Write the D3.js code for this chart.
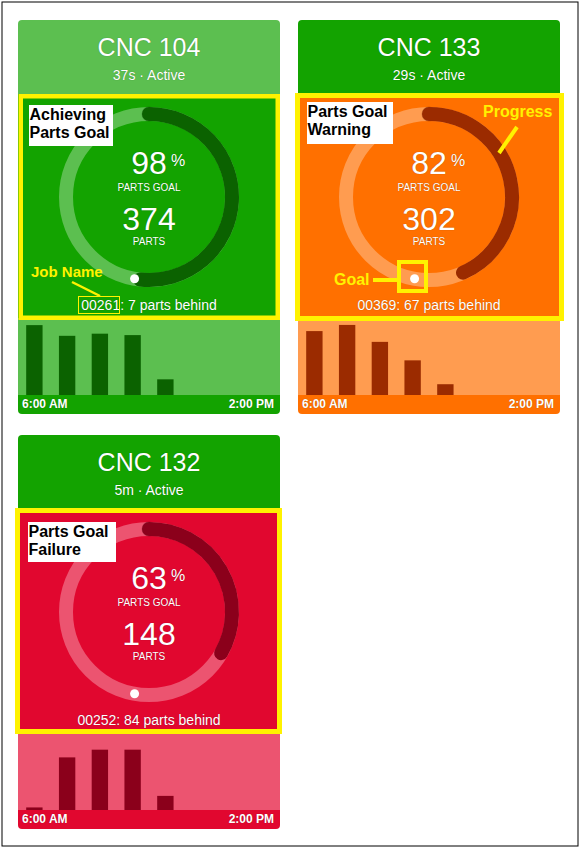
<!DOCTYPE html>
<html>
<head>
<meta charset="utf-8">
<script src="https://cdn.jsdelivr.net/npm/d3@7"></script>
<style>
  body { margin: 0; background: #fff; }
  svg { font-family: Arial, "Liberation Sans", sans-serif; display: block; }
  .wt { fill: #fff; text-shadow: 0 0 1px rgba(0,0,0,0.35); }
</style>
</head>
<body>
<script>
// machine cards
var machines = ["CNC 104", "CNC 133", "CNC 132"];
var statusText = ["37s \u00b7 Active", "29s \u00b7 Active", "5m \u00b7 Active"];
var goalPct = [98, 82, 63];
var partsDone = [374, 302, 148];
var jobNames = ["00261", "00369", "00252"];
var partsBehind = [7, 67, 84];
var levelLabels = [["Achieving", "Parts Goal"], ["Parts Goal", "Warning"], ["Parts Goal", "Failure"]];

// parts per hour, 6:00 AM .. 2:00 PM (8 hour slots)
var hourSlots = ["6", "7", "8", "9", "10", "11", "12", "13"];
var hourlyParts = [
  [98, 83, 86, 84, 22],
  [83, 91, 69, 45, 14],
  [2, 41, 47, 47, 11]
];
var hourMax = [108, 100, 60];
var timeLabels = ["6:00 AM", "2:00 PM"];

var goalAngle = 190; // degrees round the ring where the goal sits

var themes = [
  {head: "#5cbf50", panel: "#13a300", track: "#5cbf50", prog: "#0b6200", barBg: "#5cbf50", bar: "#0b6200", foot: "#13a300"},
  {head: "#13a300", panel: "#ff7000", track: "#ff9c50", prog: "#9b2b00", barBg: "#ff9c50", bar: "#9b2b00", foot: "#ff7000"},
  {head: "#13a300", panel: "#e1072f", track: "#ec5470", prog: "#8b001b", barBg: "#ec5470", bar: "#8b001b", foot: "#e1072f"}
];

var W = 581, H = 850;
var cardW = 262, cardH = 394;
var cardPos = [[18, 20], [298, 20], [18, 435]];
var headH = 74, panelH = 224, barH = 77, footH = 19;
var yellow = "#fff200";

// annotation boxes (relative to card)
var labelBoxes = [
  {x: 11, y: 85, w: 84, h: 41, ty: 100},
  {x: 9, y: 82, w: 86, h: 42, ty: 97},
  {x: 10, y: 87, w: 88, h: 40, ty: 102}
];
var frames = [
  {x: 0.5, y: 74, w: 261.5, h: 226, sw: 4.5},
  {x: -3, y: 73, w: 269, h: 228, sw: 5},
  {x: -3, y: 73, w: 267, h: 226, sw: 5}
];

var svg = d3.select("body").append("svg")
  .attr("width", W).attr("height", H);

svg.append("rect")
  .attr("x", 2).attr("y", 2).attr("width", 576).attr("height", 844)
  .attr("fill", "none").attr("stroke", "#000").attr("stroke-width", 1);

var x = d3.scaleBand().domain(hourSlots).range([0, cardW]).paddingInner(0.5).paddingOuter(0.25);

function topRounded(w, h, r) {
  return "M0," + h + "V" + r + "Q0,0 " + r + ",0H" + (w - r) + "Q" + w + ",0 " + w + "," + r + "V" + h + "Z";
}
function bottomRounded(w, h, r) {
  return "M0,0H" + w + "V" + (h - r) + "Q" + w + "," + h + " " + (w - r) + "," + h + "H" + r + "Q0," + h + " 0," + (h - r) + "Z";
}

machines.forEach(function(name, i) {
  var t = themes[i];
  var g = svg.append("g").attr("transform", "translate(" + cardPos[i][0] + "," + cardPos[i][1] + ")");

  // header
  g.append("path").attr("d", topRounded(cardW, headH, 4)).attr("fill", t.head);
  g.append("text").attr("class", "wt").attr("x", cardW / 2).attr("y", 36)
    .attr("text-anchor", "middle").style("font-size", "25px").text(name);
  g.append("text").attr("class", "wt").attr("x", cardW / 2).attr("y", 60)
    .attr("text-anchor", "middle").style("font-size", "14px").text(statusText[i]);

  // gauge panel
  g.append("rect").attr("y", headH).attr("width", cardW).attr("height", panelH).attr("fill", t.panel);
  var cx = cardW / 2, cy = 177, r = 83;
  g.append("circle").attr("cx", cx).attr("cy", cy).attr("r", r)
    .attr("fill", "none").attr("stroke", t.track).attr("stroke-width", 14);

  var a = d3.scaleLinear().domain([0, 100]).range([0, goalAngle * Math.PI / 180]);
  var p = d3.path();
  p.arc(cx, cy, r, -Math.PI / 2, a(goalPct[i]) - Math.PI / 2);
  // faint rim under the start cap
  g.append("circle").attr("cx", cx).attr("cy", cy - r).attr("r", 7.5)
    .attr("fill", "rgba(0,0,0,0.18)");
  g.append("path").attr("d", p.toString()).attr("fill", "none")
    .attr("stroke", t.prog).attr("stroke-width", 14).attr("stroke-linecap", "round");

  var ga = a(100);
  g.append("circle").attr("cx", cx + r * Math.sin(ga)).attr("cy", cy - r * Math.cos(ga))
    .attr("r", 4.5).attr("fill", "#fff");

  g.append("text").attr("class", "wt").attr("x", cx).attr("y", cy - 23)
    .attr("text-anchor", "middle").style("font-size", "32px").text(goalPct[i]);
  g.append("text").attr("class", "wt").attr("x", cx + 22).attr("y", cy - 31)
    .style("font-size", "16px").text("%");
  g.append("text").attr("class", "wt").attr("x", cx).attr("y", cy - 6)
    .attr("text-anchor", "middle").style("font-size", "10px").text("PARTS GOAL");
  g.append("text").attr("class", "wt").attr("x", cx).attr("y", cy + 33)
    .attr("text-anchor", "middle").style("font-size", "32px").text(partsDone[i]);
  g.append("text").attr("class", "wt").attr("x", cx).attr("y", cy + 48)
    .attr("text-anchor", "middle").style("font-size", "10px").text("PARTS");
  g.append("text").attr("class", "wt").attr("x", cx).attr("y", 290)
    .attr("text-anchor", "middle").style("font-size", "14px")
    .text(jobNames[i] + ": " + partsBehind[i] + " parts behind");

  // hourly bars
  var by = headH + panelH;
  g.append("rect").attr("y", by).attr("width", cardW).attr("height", barH).attr("fill", t.barBg);
  var y = d3.scaleLinear().domain([0, hourMax[i]]).range([barH, 0]);
  g.append("g").attr("transform", "translate(0," + by + ")")
    .selectAll("rect").data(hourlyParts[i]).join("rect")
    .attr("x", function(d, j) { return x(hourSlots[j]); })
    .attr("y", function(d) { return y(d); })
    .attr("width", x.bandwidth())
    .attr("height", function(d) { return barH - y(d); })
    .attr("fill", t.bar);

  // footer
  g.append("path").attr("transform", "translate(0," + (by + barH) + ")")
    .attr("d", bottomRounded(cardW, footH, 4)).attr("fill", t.foot);
  g.append("text").attr("class", "wt").attr("x", 4).attr("y", by + barH + 13)
    .style("font-size", "12px").style("font-weight", "bold").text(timeLabels[0]);
  g.append("text").attr("class", "wt").attr("x", cardW - 6).attr("y", by + barH + 13)
    .attr("text-anchor", "end").style("font-size", "12px").style("font-weight", "bold").text(timeLabels[1]);

  // annotation overlay
  var f = frames[i];
  g.append("rect").attr("x", f.x + f.sw / 2).attr("y", f.y + f.sw / 2)
    .attr("width", f.w - f.sw).attr("height", f.h - f.sw)
    .attr("fill", "none").attr("stroke", yellow).attr("stroke-width", f.sw);
  var lb = labelBoxes[i];
  g.append("rect").attr("x", lb.x).attr("y", lb.y).attr("width", lb.w).attr("height", lb.h).attr("fill", "#fff");
  g.append("g").selectAll("text").data(levelLabels[i]).join("text")
    .attr("x", lb.x + 0.5).attr("y", function(d, j) { return lb.ty + j * 18; })
    .style("font-size", "16px").style("font-weight", "bold").attr("fill", "#000")
    .text(function(d) { return d; });
});

// extra call-outs
var c1 = svg.append("g").attr("transform", "translate(" + cardPos[0][0] + "," + cardPos[0][1] + ")");
c1.append("rect").attr("x", 60.5).attr("y", 276.5).attr("width", 41).attr("height", 17)
  .attr("fill", "none").attr("stroke", yellow).attr("stroke-width", 1);
c1.append("line").attr("x1", 54).attr("y1", 262).attr("x2", 82).attr("y2", 276)
  .attr("stroke", yellow).attr("stroke-width", 2.5);
c1.append("text").attr("x", 13).attr("y", 257).attr("fill", yellow)
  .style("font-size", "15px").style("font-weight", "bold").text("Job Name");

var c2 = svg.append("g").attr("transform", "translate(" + cardPos[1][0] + "," + cardPos[1][1] + ")");
c2.append("text").attr("x", 185).attr("y", 97).attr("fill", yellow)
  .style("font-size", "16px").style("font-weight", "bold").text("Progress");
c2.append("line").attr("x1", 219).attr("y1", 107).attr("x2", 201).attr("y2", 133)
  .attr("stroke", yellow).attr("stroke-width", 4);
c2.append("text").attr("x", 36).attr("y", 265).attr("fill", yellow)
  .style("font-size", "16px").style("font-weight", "bold").text("Goal");
c2.append("line").attr("x1", 75).attr("y1", 260).attr("x2", 100).attr("y2", 260)
  .attr("stroke", yellow).attr("stroke-width", 4);
c2.append("rect").attr("x", 101).attr("y", 242).attr("width", 27).attr("height", 29)
  .attr("fill", "none").attr("stroke", yellow).attr("stroke-width", 4);
</script>
</body>
</html>
